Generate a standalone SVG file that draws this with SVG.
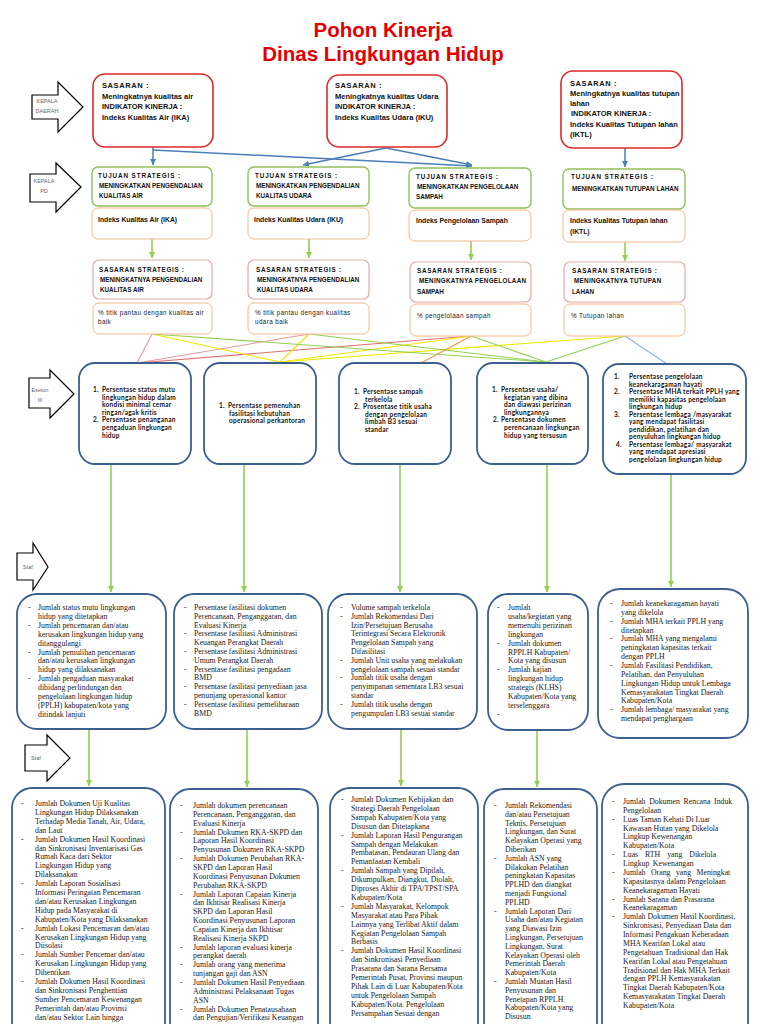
<svg xmlns="http://www.w3.org/2000/svg" width="768" height="1024" viewBox="0 0 768 1024">
<defs>
<marker id="ab" markerWidth="8" markerHeight="8" refX="6" refY="3" orient="auto" markerUnits="userSpaceOnUse"><path d="M0,0 L6,3 L0,6 z" fill="#4a7ebb"/></marker>
<marker id="ag" markerWidth="8" markerHeight="8" refX="6" refY="3" orient="auto" markerUnits="userSpaceOnUse"><path d="M0,0 L6,3 L0,6 z" fill="#92d050"/></marker>
<style>
.title{font-family:"Liberation Sans",Arial,sans-serif;font-weight:bold;font-size:20.5px;fill:#e50000;text-anchor:middle}
.lvl{fill:#fff;stroke:#000;stroke-width:1.2}
.lt{font-family:"Liberation Sans",Arial,sans-serif;font-size:5.5px;fill:#666;text-anchor:middle}
.top{fill:#fff;stroke:#e02828;stroke-width:1.6}
.tt{font-family:"Liberation Sans",Arial,sans-serif;font-weight:bold;font-size:7.5px;fill:#111}
.tuj{fill:#fff;stroke:#92c05a;stroke-width:1.4}
.ind{fill:#fff;stroke:#f5b98e;stroke-width:1}
.sas{fill:#fff;stroke:#e6a9a9;stroke-width:1.2}
.cap{font-family:"Liberation Sans",Arial,sans-serif;font-weight:bold;font-size:6.3px;fill:#111}
.ix{font-family:"Liberation Sans",Arial,sans-serif;font-weight:bold;font-size:6.8px;fill:#111}
.pc{font-family:"Liberation Sans",Arial,sans-serif;font-size:6.3px;letter-spacing:0.4px;fill:#222}
.es{fill:#fff;stroke:#3b5f8f;stroke-width:1.8}
.et{font-family:Lato,"Liberation Sans",sans-serif;font-weight:bold;font-size:6.5px;letter-spacing:0.25px;fill:#111}
.st{font-family:"Liberation Serif","Times New Roman",serif;font-size:7.8px;fill:#222}
.bl{fill:none;stroke:#4a7ebb;stroke-width:1.5}
.gl{fill:none;stroke:#92d050;stroke-width:1.6}
</style>
</defs>
<rect width="768" height="1024" fill="#fff"/>

<g id="title">
<text class="title" x="383" y="37">Pohon Kinerja</text>
<text class="title" x="383" y="61">Dinas Lingkungan Hidup</text>
</g>

<g id="level-kepala-daerah">
<polygon class="lvl" points="32,95 58,95 58,82 83,107 58,132 58,119 32,119"/>
<text class="lt" x="47" y="103">KEPALA</text><text class="lt" x="47" y="113">DAERAH</text>
</g>
<g id="level-kepala-pd">
<polygon class="lvl" points="30,174 56,174 56,163 81,187 56,212 56,202 30,202"/>
<text class="lt" x="44" y="183">KEPALA</text><text class="lt" x="44" y="193">PD</text>
</g>
<g id="level-eselon">
<polygon class="lvl" points="29,378 50,378 50,370 74,394 50,418 50,408 29,408"/>
<text class="lt" x="40" y="392">Eselon</text><text class="lt" x="40" y="402">III</text>
</g>
<g id="level-staf-1">
<polygon class="lvl" points="17,553 33,553 33,543 48,567 33,590 33,580 17,580"/>
<text class="lt" x="28" y="569">Staf</text>
</g>
<g id="level-staf-2">
<polygon class="lvl" points="25,745 47,745 47,735 70,758 47,781 47,771 25,771"/>
<text class="lt" x="36" y="760">Staf</text>
</g>

<g id="connectors">
<line class="bl" x1="153" y1="147" x2="153" y2="165" marker-end="url(#ab)"/>
<line class="bl" x1="153" y1="150" x2="472" y2="166" marker-end="url(#ab)"/>
<line class="bl" x1="386" y1="148" x2="303" y2="165" marker-end="url(#ab)"/>
<line class="bl" x1="386" y1="148" x2="472" y2="165" marker-end="url(#ab)"/>
<line class="bl" x1="625" y1="148" x2="625" y2="167" marker-end="url(#ab)"/>
<line class="gl" x1="152" y1="239" x2="152" y2="258" marker-end="url(#ag)"/>
<line class="gl" x1="309" y1="239" x2="309" y2="258" marker-end="url(#ag)"/>
<line class="gl" x1="471" y1="241" x2="471" y2="260" marker-end="url(#ag)"/>
<line class="gl" x1="625" y1="242" x2="625" y2="261" marker-end="url(#ag)"/>
<g stroke-width="1.1" fill="none">
<line x1="152" y1="334" x2="137" y2="363" stroke="#e39b9b"/>
<line x1="309" y1="334" x2="137" y2="363" stroke="#e39b9b"/>
<line x1="471" y1="336" x2="137" y2="363" stroke="#e07070"/>
<line x1="152" y1="334" x2="280" y2="362" stroke="#f2e600"/>
<line x1="309" y1="334" x2="280" y2="362" stroke="#f2e600"/>
<line x1="471" y1="336" x2="280" y2="362" stroke="#f2e600"/>
<line x1="625" y1="336" x2="280" y2="362" stroke="#f2e600"/>
<line x1="152" y1="334" x2="546" y2="362" stroke="#92d050"/>
<line x1="309" y1="334" x2="546" y2="362" stroke="#92d050"/>
<line x1="471" y1="336" x2="546" y2="362" stroke="#92d050"/>
<line x1="625" y1="336" x2="546" y2="362" stroke="#92d050"/>
<line x1="471" y1="336" x2="421" y2="363" stroke="#f79646"/>
<line x1="625" y1="336" x2="667" y2="364" stroke="#8db3e2"/>
</g>
<line class="gl" x1="111" y1="464" x2="111" y2="592" marker-end="url(#ag)"/>
<line class="gl" x1="244" y1="464" x2="244" y2="592" marker-end="url(#ag)"/>
<line class="gl" x1="400" y1="464" x2="400" y2="592" marker-end="url(#ag)"/>
<line class="gl" x1="547" y1="464" x2="547" y2="592" marker-end="url(#ag)"/>
<line class="gl" x1="671" y1="474" x2="671" y2="587" marker-end="url(#ag)"/>
<line class="gl" x1="89" y1="729" x2="89" y2="786" marker-end="url(#ag)"/>
<line class="gl" x1="247" y1="729" x2="247" y2="787" marker-end="url(#ag)"/>
<line class="gl" x1="401" y1="729" x2="401" y2="786" marker-end="url(#ag)"/>
<line class="gl" x1="537" y1="730" x2="537" y2="787" marker-end="url(#ag)"/>
</g>

<g id="sasaran-air">
<rect class="top" x="93" y="74" width="120" height="73" rx="12"/>
<text class="tt" x="102" y="88" letter-spacing="0.6">SASARAN :</text>
<text class="tt" x="102" y="99">Meningkatnya kualitas air</text>
<text class="tt" x="102" y="109">INDIKATOR KINERJA :</text>
<text class="tt" x="102" y="120">Indeks Kualitas Air (IKA)</text>
</g>
<g id="sasaran-udara">
<rect class="top" x="327" y="75" width="120" height="72" rx="12"/>
<text class="tt" x="335" y="88" letter-spacing="0.6">SASARAN :</text>
<text class="tt" x="335" y="99">Meningkatnya kualitas Udara</text>
<text class="tt" x="335" y="109">INDIKATOR KINERJA :</text>
<text class="tt" x="335" y="120">Indeks Kualitas Udara (IKU)</text>
</g>
<g id="sasaran-tutupan">
<rect class="top" x="561" y="71" width="121" height="77" rx="12"/>
<text class="tt" x="570" y="86" letter-spacing="0.6">SASARAN :</text>
<text class="tt" x="570" y="96">Meningkatnya kualitas tutupan</text>
<text class="tt" x="570" y="106">lahan</text>
<text class="tt" x="571" y="116">INDIKATOR KINERJA :</text>
<text class="tt" x="570" y="127">Indeks Kualitas Tutupan lahan</text>
<text class="tt" x="570" y="137">(IKTL)</text>
</g>

<g id="tujuan-air">
<rect class="tuj" x="92" y="167" width="120" height="39" rx="6"/>
<text class="cap" x="98" y="178" letter-spacing="0.9">TUJUAN STRATEGIS :</text>
<text class="cap" x="99" y="188">MENINGKATKAN PENGENDALIAN</text>
<text class="cap" x="99" y="198">KUALITAS AIR</text>
</g>
<g id="indeks-air">
<rect class="ind" x="92" y="208" width="120" height="31" rx="6"/>
<text class="ix" x="98" y="222">Indeks Kualitas Air (IKA)</text>
</g>
<g id="tujuan-udara">
<rect class="tuj" x="248" y="167" width="121" height="39" rx="6"/>
<text class="cap" x="255" y="178" letter-spacing="0.9">TUJUAN STRATEGIS :</text>
<text class="cap" x="256" y="188">MENINGKATKAN PENGENDALIAN</text>
<text class="cap" x="256" y="198">KUALITAS UDARA</text>
</g>
<g id="indeks-udara">
<rect class="ind" x="248" y="208" width="121" height="31" rx="6"/>
<text class="ix" x="254" y="222">Indeks Kualitas Udara (IKU)</text>
</g>
<g id="tujuan-sampah">
<rect class="tuj" x="409" y="168" width="122" height="40" rx="6"/>
<text class="cap" x="416" y="179" letter-spacing="0.9">TUJUAN STRATEGIS :</text>
<text class="cap" x="417" y="189">MENINGKATKAN PENGELOLAAN</text>
<text class="cap" x="416" y="199">SAMPAH</text>
</g>
<g id="indeks-sampah">
<rect class="ind" x="409" y="210" width="122" height="31" rx="6"/>
<text class="ix" x="416" y="223">Indeks Pengelolaan Sampah</text>
</g>
<g id="tujuan-tutupan">
<rect class="tuj" x="563" y="169" width="122" height="40" rx="6"/>
<text class="cap" x="571" y="179" letter-spacing="0.9">TUJUAN STRATEGIS :</text>
<text class="cap" x="572" y="191">MENINGKATKAN TUTUPAN LAHAN</text>
</g>
<g id="indeks-tutupan">
<rect class="ind" x="563" y="210" width="122" height="32" rx="6"/>
<text class="ix" x="570" y="223">Indeks Kualitas Tutupan lahan</text>
<text class="ix" x="570" y="234">(IKTL)</text>
</g>

<g id="sasaran-strategis-air">
<rect class="sas" x="93" y="260" width="119" height="39" rx="6"/>
<text class="cap" x="99" y="272" letter-spacing="0.7">SASARAN STRATEGIS :</text>
<text class="cap" x="100" y="282">MENINGKATNYA PENGENDALIAN</text>
<text class="cap" x="100" y="292">KUALITAS AIR</text>
</g>
<g id="persen-air">
<rect class="ind" x="93" y="303" width="119" height="31" rx="6"/>
<text class="pc" x="98" y="315">% titik pantau dengan kualitas air</text>
<text class="pc" x="98" y="324">baik</text>
</g>
<g id="sasaran-strategis-udara">
<rect class="sas" x="248" y="260" width="121" height="39" rx="6"/>
<text class="cap" x="256" y="272" letter-spacing="0.7">SASARAN STRATEGIS :</text>
<text class="cap" x="257" y="282">MENINGKATNYA PENGENDALIAN</text>
<text class="cap" x="257" y="292">KUALITAS UDARA</text>
</g>
<g id="persen-udara">
<rect class="ind" x="248" y="303" width="121" height="31" rx="6"/>
<text class="pc" x="255" y="315">% titik pantau dengan kualitas</text>
<text class="pc" x="255" y="324">udara baik</text>
</g>
<g id="sasaran-strategis-sampah">
<rect class="sas" x="410" y="262" width="121" height="40" rx="6"/>
<text class="cap" x="417" y="273" letter-spacing="0.7">SASARAN STRATEGIS :</text>
<text class="cap" x="419" y="283" letter-spacing="0.3">MENINGKATNYA PENGELOLAAN</text>
<text class="cap" x="417" y="294">SAMPAH</text>
</g>
<g id="persen-sampah">
<rect class="ind" x="410" y="304" width="121" height="32" rx="6"/>
<text class="pc" x="417" y="318">% pengelolaan sampah</text>
</g>
<g id="sasaran-strategis-tutupan">
<rect class="sas" x="564" y="262" width="121" height="40" rx="6"/>
<text class="cap" x="572" y="273" letter-spacing="0.7">SASARAN STRATEGIS :</text>
<text class="cap" x="574" y="283" letter-spacing="0.3">MENINGKATNYA TUTUPAN</text>
<text class="cap" x="572" y="294">LAHAN</text>
</g>
<g id="persen-tutupan">
<rect class="ind" x="564" y="304" width="121" height="32" rx="6"/>
<text class="pc" x="571" y="318">% Tutupan lahan</text>
</g>

<g id="eselon-1">
<rect class="es" x="79" y="363" width="112" height="101" rx="16"/>
<text class="et"><tspan x="93" y="392">1.</tspan><tspan x="102">Persentase status mutu</tspan><tspan x="102" y="399.5">lingkungan hidup dalam</tspan><tspan x="102" y="407">kondisi minimal cemar</tspan><tspan x="102" y="414.5">ringan/agak kritis</tspan><tspan x="93" y="422">2.</tspan><tspan x="102">Persentase penanganan</tspan><tspan x="102" y="430">pengaduan lingkungan</tspan><tspan x="102" y="438">hidup</tspan></text>
</g>
<g id="eselon-2">
<rect class="es" x="204" y="363" width="112" height="101" rx="16"/>
<text class="et"><tspan x="219" y="408">1.</tspan><tspan x="228">Persentase pemenuhan</tspan><tspan x="229" y="415.5">fasilitasi kebutuhan</tspan><tspan x="229" y="423">operasional perkantoran</tspan></text>
</g>
<g id="eselon-3">
<rect class="es" x="339" y="363" width="112" height="101" rx="16"/>
<text class="et"><tspan x="354" y="394">1.</tspan><tspan x="363">Persentase sampah</tspan><tspan x="365" y="401.5">terkelola</tspan><tspan x="354" y="409">2.</tspan><tspan x="363">Prosentase titik usaha</tspan><tspan x="365" y="416.5">dengan pengelolaan</tspan><tspan x="365" y="424">limbah B3 sesuai</tspan><tspan x="365" y="431.5">standar</tspan></text>
</g>
<g id="eselon-4">
<rect class="es" x="477" y="363" width="111" height="101" rx="16"/>
<text class="et"><tspan x="492" y="392">1.</tspan><tspan x="501">Persentase usaha/</tspan><tspan x="504" y="399.5">kegiatan yang dibina</tspan><tspan x="504" y="407">dan diawasi perizinan</tspan><tspan x="504" y="414.5">lingkungannya</tspan><tspan x="493" y="422">2.</tspan><tspan x="501">Persentase dokumen</tspan><tspan x="504" y="430">perencanaan lingkungan</tspan><tspan x="504" y="438">hidup yang tersusun</tspan></text>
</g>
<g id="eselon-5">
<rect class="es" x="603" y="364" width="143" height="110" rx="16"/>
<text class="et"><tspan x="614" y="379">1.</tspan><tspan x="629">Persentase pengelolaan</tspan><tspan x="629" y="386.5">keanekaragaman hayati</tspan><tspan x="614" y="394">2.</tspan><tspan x="629">Persentase MHA terkait PPLH yang</tspan><tspan x="629" y="401.5">memiliki kapasitas pengelolaan</tspan><tspan x="629" y="409">lingkungan hidup</tspan><tspan x="614" y="416.5">3.</tspan><tspan x="629">Persentase lembaga /masyarakat</tspan><tspan x="629" y="424">yang mendapat fasilitasi</tspan><tspan x="629" y="431.5">pendidikan, pelatihan dan</tspan><tspan x="629" y="439">penyuluhan lingkungan hidup</tspan><tspan x="616" y="446.5">4.</tspan><tspan x="629">Persentase lembaga/ masyarakat</tspan><tspan x="629" y="454">yang mendapat apresiasi</tspan><tspan x="629" y="461.5">pengelolaan lingkungan hidup</tspan></text>
</g>

<g id="staf1-1">
<rect class="es" x="17" y="594" width="149" height="135" rx="20"/>
<text class="st"><tspan x="28" y="610">-</tspan><tspan x="38">Jumlah status mutu lingkungan</tspan><tspan x="38" dy="8.9">hidup yang ditetapkan</tspan><tspan x="28" dy="8.9">-</tspan><tspan x="38">Jumlah pencemaran dan/atau</tspan><tspan x="38" dy="8.9">kerusakan lingkungan hidup yang</tspan><tspan x="38" dy="8.9">ditanggulangi</tspan><tspan x="28" dy="8.9">-</tspan><tspan x="38">Jumlah pemulihan pencemaran</tspan><tspan x="38" dy="8.9">dan/atau kerusakan lingkungan</tspan><tspan x="38" dy="8.9">hidup yang dilaksanakan</tspan><tspan x="28" dy="8.9">-</tspan><tspan x="38">Jumlah pengaduan masyarakat</tspan><tspan x="38" dy="8.9">dibidang perlindungan dan</tspan><tspan x="38" dy="8.9">pengelolaan lingkungan hidup</tspan><tspan x="38" dy="8.9">(PPLH) kabupaten/kota yang</tspan><tspan x="38" dy="8.9">ditindak lanjuti</tspan></text>
</g>
<g id="staf1-2">
<rect class="es" x="174" y="594" width="148" height="135" rx="20"/>
<text class="st"><tspan x="184" y="610">-</tspan><tspan x="194">Persentase fasilitasi dokumen</tspan><tspan x="194" dy="8.8">Perencanaan, Penganggaran, dan</tspan><tspan x="194" dy="8.8">Evaluasi Kinerja</tspan><tspan x="184" dy="8.8">-</tspan><tspan x="194">Persentase fasilitasi Administrasi</tspan><tspan x="194" dy="8.8">Keuangan Perangkat Daerah</tspan><tspan x="184" dy="8.8">-</tspan><tspan x="194">Persentase fasilitasi Administrasi</tspan><tspan x="194" dy="8.8">Umum Perangkat Daerah</tspan><tspan x="184" dy="8.8">-</tspan><tspan x="194">Persentase fasilitasi pengadaan</tspan><tspan x="194" dy="8.8">BMD</tspan><tspan x="184" dy="8.8">-</tspan><tspan x="194">Persentase fasilitasi penyediaan jasa</tspan><tspan x="194" dy="8.8">penunjang operasional kantor</tspan><tspan x="184" dy="8.8">-</tspan><tspan x="194">Persentase fasilitasi pemeliharaan</tspan><tspan x="194" dy="8.8">BMD</tspan></text>
</g>
<g id="staf1-3">
<rect class="es" x="328" y="594" width="149" height="135" rx="20"/>
<text class="st"><tspan x="340" y="610">-</tspan><tspan x="351">Volume sampah terkelola</tspan><tspan x="340" dy="8.8">-</tspan><tspan x="351">Jumlah Rekomendasi Dari</tspan><tspan x="351" dy="8.8">Izin/Persetujuan Berusaha</tspan><tspan x="351" dy="8.8">Terintegrasi Secara Elektronik</tspan><tspan x="351" dy="8.8">Pengelolaan Sampah yang</tspan><tspan x="351" dy="8.8">Difasilitasi</tspan><tspan x="340" dy="8.8">-</tspan><tspan x="351">Jumlah Unit usaha yang melakukan</tspan><tspan x="351" dy="8.8">pengelolaan sampah sesuai standar</tspan><tspan x="340" dy="8.8">-</tspan><tspan x="351">Jumlah titik usaha dengan</tspan><tspan x="351" dy="8.8">penyimpanan sementara LB3 sesuai</tspan><tspan x="351" dy="8.8">standar</tspan><tspan x="340" dy="8.8">-</tspan><tspan x="351">Jumlah titik usaha dengan</tspan><tspan x="351" dy="8.8">pengumpulan LB3 sesuai standar</tspan></text>
</g>
<g id="staf1-4">
<rect class="es" x="488" y="594" width="100" height="136" rx="20"/>
<text class="st"><tspan x="497" y="610">-</tspan><tspan x="508">Jumlah</tspan><tspan x="508" dy="8.9">usaha/kegiatan yang</tspan><tspan x="508" dy="8.9">memenuhi perizinan</tspan><tspan x="508" dy="8.9">lingkungan</tspan><tspan x="497" dy="8.9">-</tspan><tspan x="508">Jumlah dokumen</tspan><tspan x="508" dy="8.9">RPPLH Kabupaten/</tspan><tspan x="508" dy="8.9">Kota yang disusun</tspan><tspan x="497" dy="8.9">-</tspan><tspan x="508">Jumlah kajian</tspan><tspan x="508" dy="8.9">lingkungan hidup</tspan><tspan x="508" dy="8.9">strategis (KLHS)</tspan><tspan x="508" dy="8.9">Kabupaten/Kota yang</tspan><tspan x="508" dy="8.9">terselenggara</tspan><tspan x="497" dy="8.9">-</tspan></text>
</g>
<g id="staf1-5">
<rect class="es" x="598" y="589" width="150" height="149" rx="22"/>
<text class="st"><tspan x="610" y="606">-</tspan><tspan x="621">Jumlah keanekaragaman hayati</tspan><tspan x="621" dy="8.85">yang dikelola</tspan><tspan x="610" dy="8.85">-</tspan><tspan x="621">Jumlah MHA terkait PPLH yang</tspan><tspan x="621" dy="8.85">ditetapkan</tspan><tspan x="610" dy="8.85">-</tspan><tspan x="621">Jumlah MHA yang mengalami</tspan><tspan x="621" dy="8.85">peningkatan kapasitas terkait</tspan><tspan x="621" dy="8.85">dengan PPLH</tspan><tspan x="610" dy="8.85">-</tspan><tspan x="621">Jumlah Fasilitasi Pendidikan,</tspan><tspan x="621" dy="8.85">Pelatihan, dan Penyuluhan</tspan><tspan x="621" dy="8.85">Lingkungan Hidup untuk Lembaga</tspan><tspan x="621" dy="8.85">Kemasyarakatan Tingkat Daerah</tspan><tspan x="621" dy="8.85">Kabupaten/Kota</tspan><tspan x="610" dy="8.85">-</tspan><tspan x="621">Jumlah lembaga/ masyarakat yang</tspan><tspan x="621" dy="8.85">mendapat penghargaan</tspan></text>
</g>

<g id="staf2-1">
<rect class="es" x="12" y="788" width="153" height="260" rx="20"/>
<text class="st"><tspan x="21" y="806">-</tspan><tspan x="35">Jumlah Dokumen Uji Kualitas</tspan><tspan x="35" dy="8.9">Lingkungan Hidup Dilaksanakan</tspan><tspan x="35" dy="8.9">Terhadap Media Tanah, Air, Udara,</tspan><tspan x="35" dy="8.9">dan Laut</tspan><tspan x="21" dy="8.9">-</tspan><tspan x="35">Jumlah Dokumen Hasil Koordinasi</tspan><tspan x="35" dy="8.9">dan Sinkronisasi Inventarisasi Gas</tspan><tspan x="35" dy="8.9">Rumah Kaca dari Sektor</tspan><tspan x="35" dy="8.9">Lingkungan Hidup yang</tspan><tspan x="35" dy="8.9">Dilaksanakan</tspan><tspan x="21" dy="8.9">-</tspan><tspan x="35">Jumlah Laporan Sosialisasi</tspan><tspan x="35" dy="8.9">Informasi Peringatan Pencemaran</tspan><tspan x="35" dy="8.9">dan/atau Kerusakan Lingkungan</tspan><tspan x="35" dy="8.9">Hidup pada Masyarakat di</tspan><tspan x="35" dy="8.9">Kabupaten/Kota yang Dilaksanakan</tspan><tspan x="21" dy="8.9">-</tspan><tspan x="35">Jumlah Lokasi Pencemaran dan/atau</tspan><tspan x="35" dy="8.9">Kerusakan Lingkungan Hidup yang</tspan><tspan x="35" dy="8.9">Diisolasi</tspan><tspan x="21" dy="8.9">-</tspan><tspan x="35">Jumlah Sumber Pencemar  dan/atau</tspan><tspan x="35" dy="8.9">Kerusakan Lingkungan Hidup yang</tspan><tspan x="35" dy="8.9">Dihentikan</tspan><tspan x="21" dy="8.9">-</tspan><tspan x="35">Jumlah Dokumen Hasil Koordinasi</tspan><tspan x="35" dy="8.9">dan Sinkronisasi Penghentian</tspan><tspan x="35" dy="8.9">Sumber Pencemaran Kewenangan</tspan><tspan x="35" dy="8.9">Pemerintah dan/atau Provinsi</tspan><tspan x="35" dy="8.9">dan/atau Sektor Lain hingga</tspan></text>
</g>
<g id="staf2-2">
<rect class="es" x="170" y="789" width="148" height="260" rx="20"/>
<text class="st"><tspan x="180" y="808">-</tspan><tspan x="193">Jumlah dokumen perencanaan</tspan><tspan x="193" dy="8.85">Perencanaan, Penganggaran, dan</tspan><tspan x="193" dy="8.85">Evaluasi Kinerja</tspan><tspan x="180" dy="8.85">-</tspan><tspan x="193">Jumlah Dokumen RKA-SKPD dan</tspan><tspan x="193" dy="8.85">Laporan Hasil Koordinasi</tspan><tspan x="193" dy="8.85">Penyusunan Dokumen RKA-SKPD</tspan><tspan x="180" dy="8.85">-</tspan><tspan x="193">Jumlah Dokumen Perubahan RKA-</tspan><tspan x="193" dy="8.85">SKPD dan Laporan Hasil</tspan><tspan x="193" dy="8.85">Koordinasi Penyusunan Dokumen</tspan><tspan x="193" dy="8.85">Perubahan RKA-SKPD</tspan><tspan x="180" dy="8.85">-</tspan><tspan x="193">Jumlah Laporan Capaian Kinerja</tspan><tspan x="193" dy="8.85">dan Ikhtisar Realisasi Kinerja</tspan><tspan x="193" dy="8.85">SKPD dan Laporan Hasil</tspan><tspan x="193" dy="8.85">Koordinasi Penyusunan Laporan</tspan><tspan x="193" dy="8.85">Capaian Kinerja dan Ikhtisar</tspan><tspan x="193" dy="8.85">Realisasi Kinerja SKPD</tspan><tspan x="180" dy="8.85">-</tspan><tspan x="193">Jumlah laporan evaluasi kinerja</tspan><tspan x="193" dy="8.85">perangkat daerah</tspan><tspan x="180" dy="8.85">-</tspan><tspan x="193">Jumlah orang yang menerima</tspan><tspan x="193" dy="8.85">tunjangan gaji dan ASN</tspan><tspan x="180" dy="8.85">-</tspan><tspan x="193">Jumlah Dokumen Hasil Penyediaan</tspan><tspan x="193" dy="8.85">Administrasi Pelaksanaan Tugas</tspan><tspan x="193" dy="8.85">ASN</tspan><tspan x="180" dy="8.85">-</tspan><tspan x="193">Jumlah Dokumen Penatausahaan</tspan><tspan x="193" dy="8.85">dan Pengujian/Verifikasi Keuangan</tspan></text>
</g>
<g id="staf2-3">
<rect class="es" x="330" y="788" width="148" height="260" rx="20"/>
<text class="st"><tspan x="341" y="802">-</tspan><tspan x="351">Jumlah Dokumen Kebijakan dan</tspan><tspan x="351" dy="8.9">Strategi Daerah Pengelolaan</tspan><tspan x="351" dy="8.9">Sampah Kabupaten/Kota yang</tspan><tspan x="351" dy="8.9">Disusun dan Ditetapkana</tspan><tspan x="341" dy="8.9">-</tspan><tspan x="351">Jumlah Laporan Hasil Pengurangan</tspan><tspan x="351" dy="8.9">Sampah dengan Melakukan</tspan><tspan x="351" dy="8.9">Pembatasan, Pendauran Ulang dan</tspan><tspan x="351" dy="8.9">Pemanfaatan Kembali</tspan><tspan x="341" dy="8.9">-</tspan><tspan x="351">Jumlah Sampah yang  Dipilah,</tspan><tspan x="351" dy="8.9">Dikumpulkan, Diangkut, Diolah,</tspan><tspan x="351" dy="8.9">Diproses Akhir di TPA/TPST/SPA</tspan><tspan x="351" dy="8.9">Kabupaten/Kota</tspan><tspan x="341" dy="8.9">-</tspan><tspan x="351">Jumlah Masyarakat, Kelompok</tspan><tspan x="351" dy="8.9">Masyarakat atau Para Pihak</tspan><tspan x="351" dy="8.9">Lainnya yang Terlibat Aktif dalam</tspan><tspan x="351" dy="8.9">Kegiatan Pengelolaan Sampah</tspan><tspan x="351" dy="8.9">Berbasis</tspan><tspan x="341" dy="8.9">-</tspan><tspan x="351">Jumlah Dokumen Hasil Koordinasi</tspan><tspan x="351" dy="8.9">dan Sinkronisasi Penyediaan</tspan><tspan x="351" dy="8.9">Prasarana dan Sarana Bersama</tspan><tspan x="351" dy="8.9">Pemerintah Pusat, Provinsi maupun</tspan><tspan x="351" dy="8.9">Pihak Lain di Luar Kabupaten/Kota</tspan><tspan x="351" dy="8.9">untuk Pengelolaan Sampah</tspan><tspan x="351" dy="8.9">Kabupaten/Kota. Pengelolaan</tspan><tspan x="351" dy="8.9">Persampahan Sesuai dengan</tspan></text>
</g>
<g id="staf2-4">
<rect class="es" x="484" y="789" width="113" height="260" rx="20"/>
<text class="st"><tspan x="494" y="808">-</tspan><tspan x="505">Jumlah Rekomendasi</tspan><tspan x="505" dy="8.8">dan/atau Persetujuan</tspan><tspan x="505" dy="8.8">Teknis, Persetujuan</tspan><tspan x="505" dy="8.8">Lingkungan, dan Surat</tspan><tspan x="505" dy="8.8">Kelayakan Operasi yang</tspan><tspan x="505" dy="8.8">Diberikan</tspan><tspan x="494" dy="8.8">-</tspan><tspan x="505">Jumlah ASN yang</tspan><tspan x="505" dy="8.8">Dilakukan Pelatihan</tspan><tspan x="505" dy="8.8">peningkatan Kapasitas</tspan><tspan x="505" dy="8.8">PPLHD dan diangkat</tspan><tspan x="505" dy="8.8">menjadi Fungsional</tspan><tspan x="505" dy="8.8">PPLHD</tspan><tspan x="494" dy="8.8">-</tspan><tspan x="505">Jumlah Laporan Dari</tspan><tspan x="505" dy="8.8">Usaha dan/atau Kegiatan</tspan><tspan x="505" dy="8.8">yang Diawasi Izin</tspan><tspan x="505" dy="8.8">Lingkungan, Persetujuan</tspan><tspan x="505" dy="8.8">Lingkungan, Surat</tspan><tspan x="505" dy="8.8">Kelayakan Operasi oleh</tspan><tspan x="505" dy="8.8">Pemerintah Daerah</tspan><tspan x="505" dy="8.8">Kabupaten/Kota</tspan><tspan x="494" dy="8.8">-</tspan><tspan x="505">Jumlah Muatan Hasil</tspan><tspan x="505" dy="8.8">Penyusunan dan</tspan><tspan x="505" dy="8.8">Penetapan RPPLH</tspan><tspan x="505" dy="8.8">Kabupaten/Kota yang</tspan><tspan x="505" dy="8.8">Disusun</tspan></text>
</g>
<g id="staf2-5">
<rect class="es" x="602" y="784" width="146" height="265" rx="22"/>
<text class="st"><tspan x="612" y="804">-</tspan><tspan x="623" word-spacing="1.7">Jumlah Dokumen Rencana Induk</tspan><tspan x="623" dy="8.87">Pengelolaan</tspan><tspan x="612" dy="8.87">-</tspan><tspan x="623">Luas Taman Kehati Di Luar</tspan><tspan x="623" dy="8.87">Kawasan Hutan yang Dikelola</tspan><tspan x="623" dy="8.87">Lingkup Kewenangan</tspan><tspan x="623" dy="8.87">Kabupaten/Kota</tspan><tspan x="612" dy="8.87">-</tspan><tspan x="623" word-spacing="5">Luas RTH yang Dikelola</tspan><tspan x="623" dy="8.87" word-spacing="1.5">Lingkup Kewenangan</tspan><tspan x="612" dy="8.87">-</tspan><tspan x="623" word-spacing="3.5">Jumlah Orang yang Meningkat</tspan><tspan x="623" dy="8.87">Kapasitasnya dalam Pengelolaan</tspan><tspan x="623" dy="8.87">Keanekaragaman Hayati</tspan><tspan x="612" dy="8.87">-</tspan><tspan x="623">Jumlah Sarana dan Prasarana</tspan><tspan x="623" dy="8.87">Keanekaragaman</tspan><tspan x="612" dy="8.87">-</tspan><tspan x="623">Jumlah Dokumen Hasil Koordinasi,</tspan><tspan x="623" dy="8.87">Sinkronisasi, Penyediaan Data dan</tspan><tspan x="623" dy="8.87">Informasi Pengakuan Keberadaan</tspan><tspan x="623" dy="8.87">MHA Kearifan Lokal atau</tspan><tspan x="623" dy="8.87">Pengetahuan Tradisional dan Hak</tspan><tspan x="623" dy="8.87">Kearifan Lokal atau Pengetahuan</tspan><tspan x="623" dy="8.87">Tradisional dan Hak MHA Terkait</tspan><tspan x="623" dy="8.87">dengan PPLH Kemasyarakatan</tspan><tspan x="623" dy="8.87">Tingkat Daerah Kabupaten/Kota</tspan><tspan x="623" dy="8.87">Kemasyarakatan Tingkat Daerah</tspan><tspan x="623" dy="8.87">Kabupaten/Kota</tspan></text>
</g>
</svg>
